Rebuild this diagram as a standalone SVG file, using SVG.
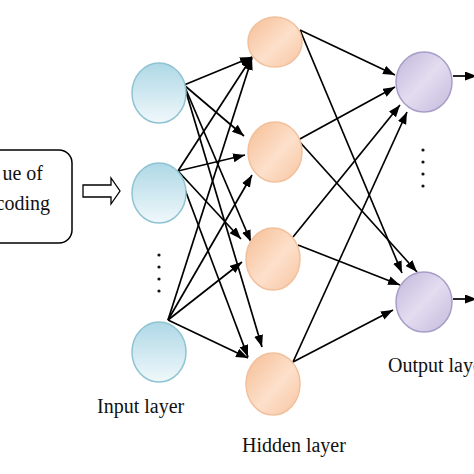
<svg xmlns="http://www.w3.org/2000/svg" width="474" height="474" viewBox="0 0 474 474">
<defs>
<linearGradient id="gIn" x1="0" y1="0" x2="0" y2="1">
<stop offset="0" stop-color="#aed8e6"/><stop offset="1" stop-color="#f0f8fb"/>
</linearGradient>
<linearGradient id="gHid" x1="0" y1="0" x2="1" y2="1">
<stop offset="0" stop-color="#f5bd93"/><stop offset="0.55" stop-color="#fde0cb"/><stop offset="1" stop-color="#f7c4a0"/>
</linearGradient>
<linearGradient id="gOut" x1="0" y1="0" x2="1" y2="1">
<stop offset="0" stop-color="#c1b6db"/><stop offset="0.5" stop-color="#e3ddf0"/><stop offset="1" stop-color="#c4b9dc"/>
</linearGradient>
<marker id="ah" markerUnits="userSpaceOnUse" markerWidth="13" markerHeight="10" refX="12" refY="4.5" orient="auto">
<path d="M0,0 L12,4.5 L0,9 z" fill="#000"/>
</marker>
</defs>
<style>
.in{fill:url(#gIn);stroke:#8fc3d2;stroke-width:1.5}
.hid{fill:url(#gHid);stroke:#f2c09c;stroke-width:1.5}
.out{fill:url(#gOut);stroke:#a89dc8;stroke-width:1.5}
.c line{stroke:#000;stroke-width:1.7;marker-end:url(#ah)}
text{font-family:"Liberation Serif","Times New Roman",serif;font-size:20px;fill:#111}
.dot{fill:#111}
</style>

<g id="source-box">
<rect x="-20" y="150" width="92" height="93" rx="13" fill="#fff" stroke="#000" stroke-width="1.5"/>
<text x="43" y="180" text-anchor="end">ue of</text>
<text x="50" y="210" text-anchor="end">coding</text>
</g>
<g id="hollow-arrow">
<polygon points="83,185 111,185 111,178 120,191 111,204 111,197 83,197" fill="#fff" stroke="#000" stroke-width="1.3"/>
</g>

<g class="c" id="connectors">
<line x1="184" y1="85" x2="252" y2="57"/>
<line x1="184" y1="85" x2="244" y2="136"/>
<line x1="184" y1="85" x2="251" y2="242"/>
<line x1="184" y1="85" x2="262" y2="347"/>
<line x1="178" y1="171" x2="252" y2="57"/>
<line x1="178" y1="171" x2="245" y2="155"/>
<line x1="178" y1="171" x2="241" y2="239"/>
<line x1="178" y1="171" x2="248" y2="357"/>
<line x1="168" y1="320" x2="252" y2="58"/>
<line x1="168" y1="320" x2="252" y2="175"/>
<line x1="168" y1="320" x2="242" y2="262"/>
<line x1="168" y1="320" x2="248" y2="358"/>
<line x1="300" y1="30" x2="395" y2="75"/>
<line x1="300" y1="30" x2="402" y2="273"/>
<line x1="298" y1="140" x2="395" y2="87"/>
<line x1="298" y1="140" x2="417" y2="272"/>
<line x1="293" y1="237" x2="400" y2="105"/>
<line x1="298" y1="245" x2="400" y2="285"/>
<line x1="293" y1="362" x2="407" y2="112"/>
<line x1="293" y1="362" x2="393" y2="310"/>
<line x1="453" y1="76" x2="477" y2="76"/>
<line x1="453" y1="299" x2="477" y2="299"/>
</g>

<g id="input-1"><ellipse class="in" cx="159" cy="93" rx="27" ry="30"/></g>
<g id="input-2"><ellipse class="in" cx="159" cy="193" rx="27" ry="30"/></g>
<g id="input-3"><ellipse class="in" cx="159" cy="352" rx="27" ry="30"/></g>
<g id="input-dots">
<circle class="dot" cx="159" cy="255" r="1.6"/><circle class="dot" cx="159" cy="267" r="1.6"/>
<circle class="dot" cx="159" cy="279" r="1.6"/><circle class="dot" cx="159" cy="291" r="1.6"/>
</g>

<g id="hidden-1"><ellipse class="hid" cx="275" cy="42" rx="27" ry="25"/></g>
<g id="hidden-2"><ellipse class="hid" cx="275" cy="152" rx="27" ry="30"/></g>
<g id="hidden-3"><ellipse class="hid" cx="273" cy="259" rx="27" ry="31"/></g>
<g id="hidden-4"><ellipse class="hid" cx="273" cy="384" rx="27" ry="31"/></g>

<g id="output-1"><ellipse class="out" cx="424" cy="82" rx="28" ry="30"/></g>
<g id="output-2"><ellipse class="out" cx="424" cy="302" rx="28" ry="30"/></g>
<g id="output-dots">
<circle class="dot" cx="423" cy="150" r="1.6"/><circle class="dot" cx="423" cy="162" r="1.6"/>
<circle class="dot" cx="423" cy="174" r="1.6"/><circle class="dot" cx="423" cy="186" r="1.6"/>
</g>

<g id="labels">
<text x="97" y="413">Input layer</text>
<text x="242" y="452">Hidden layer</text>
<text x="388" y="372">Output layer</text>
</g>
</svg>
